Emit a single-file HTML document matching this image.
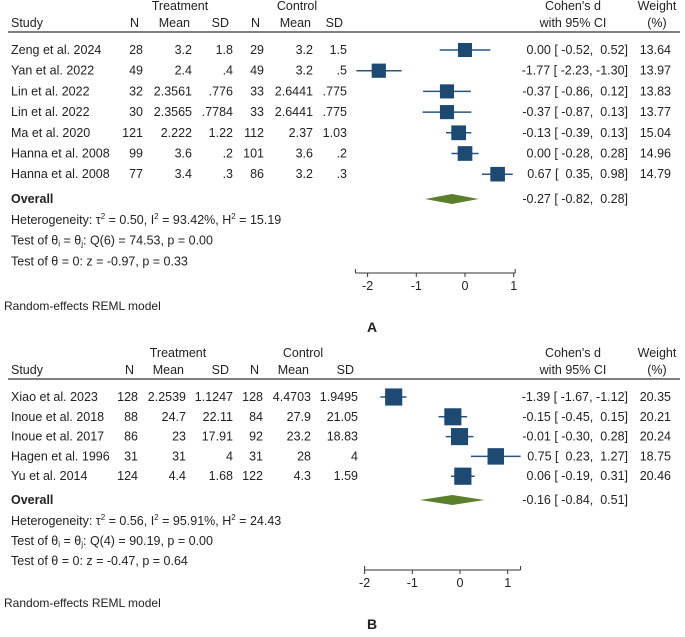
<!DOCTYPE html>
<html><head><meta charset="utf-8">
<style>
html,body{margin:0;padding:0;background:#fff;}
svg{display:block;font-family:"Liberation Sans Narrow","Liberation Sans",sans-serif;font-size:12.5px;fill:#222;}
</style></head>
<body>
<svg id="chart" width="685" height="637" viewBox="0 0 685 637" xmlns="http://www.w3.org/2000/svg"></svg>
<script>
// Panel A data
const studiesA = ["Zeng et al. 2024","Yan et al. 2022","Lin et al. 2022","Lin et al. 2022","Ma et al. 2020","Hanna et al. 2008","Hanna et al. 2008"];
const tNA = ["28","49","32","30","121","99","77"];
const tMeanA = ["3.2","2.4","2.3561","2.3565","2.222","3.6","3.4"];
const tSDA = ["1.8",".4",".776",".7784","1.22",".2",".3"];
const cNA = ["29","49","33","33","112","101","86"];
const cMeanA = ["3.2","3.2","2.6441","2.6441","2.37","3.6","3.2"];
const cSDA = ["1.5",".5",".775",".775","1.03",".2",".3"];
const effA = [0.00,-1.77,-0.37,-0.37,-0.13,0.00,0.67];
const loA = [-0.52,-2.23,-0.86,-0.87,-0.39,-0.28,0.35];
const hiA = [0.52,-1.30,0.12,0.13,0.13,0.28,0.98];
const wA = [13.64,13.97,13.83,13.77,15.04,14.96,14.79];
const overallA = [-0.27,-0.82,0.28];
const statsA = ["0.50","93.42%","15.19","6","74.53","0.00","-0.97","0.33"];
// Panel B data
const studiesB = ["Xiao et al. 2023","Inoue et al. 2018","Inoue et al. 2017","Hagen et al. 1996","Yu et al. 2014"];
const tNB = ["128","88","86","31","124"];
const tMeanB = ["2.2539","24.7","23","31","4.4"];
const tSDB = ["1.1247","22.11","17.91","4","1.68"];
const cNB = ["128","84","92","31","122"];
const cMeanB = ["4.4703","27.9","23.2","28","4.3"];
const cSDB = ["1.9495","21.05","18.83","4","1.59"];
const effB = [-1.39,-0.15,-0.01,0.75,0.06];
const loB = [-1.67,-0.45,-0.30,0.23,-0.19];
const hiB = [-1.12,0.15,0.28,1.27,0.31];
const wB = [20.35,20.21,20.24,18.75,20.46];
const overallB = [-0.16,-0.84,0.51];
const statsB = ["0.56","95.91%","24.43","4","90.19","0.00","-0.47","0.64"];
const ticks = [-2,-1,0,1];

const svg = document.getElementById('chart');
const NS = "http://www.w3.org/2000/svg";
function el(tag, attrs, parent){
  const e = document.createElementNS(NS, tag);
  for (const k in attrs) e.setAttribute(k, attrs[k]);
  (parent||svg).appendChild(e);
  return e;
}
function txt(s, x, y, anchor, g, extra){
  const t = el('text', Object.assign({x:x, y:y, 'text-anchor':anchor||'start'}, extra||{}), g);
  t.textContent = s;
  return t;
}
function f2(v){ return (v<0?"-":"")+Math.abs(v).toFixed(2); }
function ciText(e,l,h){
  return f2(e)+" [ "+ (l<0?f2(l):"\u00a0"+f2(l)) +",  "+(h<0?f2(h):"\u00a0"+f2(h))+"]";
}

function panel(P){
  const g = el('g', {});
  
  
  const X = v => P.zero + v*P.unit;
  const yb = P.y0;
  const h = el('g', {}, g);
  
  
  txt("Treatment", P.col.treat, yb+4, 'middle', h);
  txt("Control", P.col.ctrl, yb+4, 'middle', h);
  txt("Cohen's d", 573, yb+4, 'middle', h);
  txt("Weight", 657, yb+4, 'middle', h);
  const y2 = yb+17+4;
  txt("Study", 11, y2, 'start', h);
  txt("N", P.col.n1-4, y2, 'end', h);
  txt("Mean", P.col.m1-2, y2, 'end', h);
  txt("SD", P.col.s1-4, y2, 'end', h);
  txt("N", P.col.n2-4, y2, 'end', h);
  txt("Mean", P.col.m2-2, y2, 'end', h);
  txt("SD", P.col.s2-4, y2, 'end', h);
  txt("with 95% CI", 573, y2, 'middle', h);
  txt("(%)", 657, y2, 'middle', h);
  el('line', {x1:8, x2:680, y1:yb+26, y2:yb+26, stroke:'#333', 'stroke-width':1.2}, h);
  P.studies.forEach((s,i)=>{
    const y = P.rows0 + i*P.step;
    const r = el('g', {}, g);
    
    
    txt(s, 11, y+4, 'start', r);
    txt(P.tN[i], P.col.n1, y+4, 'end', r);
    txt(P.tM[i], P.col.m1, y+4, 'end', r);
    txt(P.tS[i], P.col.s1, y+4, 'end', r);
    txt(P.cN[i], P.col.n2, y+4, 'end', r);
    txt(P.cM[i], P.col.m2, y+4, 'end', r);
    txt(P.cS[i], P.col.s2, y+4, 'end', r);
    txt(ciText(P.eff[i],P.lo[i],P.hi[i]), 628, y+4, 'end', r);
    txt(P.w[i].toFixed(2), 671, y+4, 'end', r);
    const ci = el('line', {x1:X(P.lo[i]), x2:X(P.hi[i]), y1:y, y2:y, stroke:'#2a5580', 'stroke-width':1.5}, r);
    
    
    const sz = Math.sqrt(P.w[i])*3.8;
    const sq = el('rect', {x:X(P.eff[i])-sz/2, y:y-sz/2, width:sz, height:sz, fill:'#1d4a73'}, r);
    
    
  });
  const yo = P.overallY;
  const o = el('g', {}, g);
  
  
  txt("Overall", 11, yo+4, 'start', o, {'font-weight':'bold'});
  const d = el('polygon', {points:[X(P.ov[1])+','+yo, X(P.ov[0])+','+(yo-5), X(P.ov[2])+','+yo, X(P.ov[0])+','+(yo+5)].join(' '), fill:'#5b7f2b'}, o);
  
  
  txt(ciText(P.ov[0],P.ov[1],P.ov[2]), 628, yo+4, 'end', o);
  const st = el('g', {}, g);
  
  
  const S = P.stats;
  const t1 = txt("", 11, P.statY+4, 'start', st);
  t1.innerHTML = 'Heterogeneity: τ<tspan dy="-5" font-size="8">2</tspan><tspan dy="5"> = '+S[0]+', I</tspan><tspan dy="-5" font-size="8">2</tspan><tspan dy="5"> = '+S[1]+', H</tspan><tspan dy="-5" font-size="8">2</tspan><tspan dy="5"> = '+S[2]+'</tspan>';
  const t2 = txt("", 11, P.statY+P.statStep+4, 'start', st);
  t2.innerHTML = 'Test of θ<tspan dy="2" font-size="8">i</tspan><tspan dy="-2"> = θ</tspan><tspan dy="2" font-size="8">j</tspan><tspan dy="-2">: Q('+S[3]+') = '+S[4]+', p = '+S[5]+'</tspan>';
  txt("Test of θ = 0: z = "+S[6]+", p = "+S[7], 11, P.statY+2*P.statStep+4, 'start', st);
  const ax = el('g', {}, g);
  
  
  el('line', {x1:X(P.axMin), x2:X(P.axMax), y1:P.axisY, y2:P.axisY, stroke:'#333', 'stroke-width':1}, ax);
  ticks.forEach(t=>{
    el('line', {x1:X(t), x2:X(t), y1:P.axisY, y2:P.axisY+4, stroke:'#333', 'stroke-width':1}, ax);
    txt(String(t), X(t), P.axisY+17, 'middle', ax);
  });
  el('line', {x1:X(P.axMin), x2:X(P.axMin), y1:P.axisY, y2:P.axisY-4, stroke:'#333'}, ax);
  el('line', {x1:X(P.axMax), x2:X(P.axMax), y1:P.axisY, y2:P.axisY-4, stroke:'#333'}, ax);
  const m = txt("Random-effects REML model", 4, P.modelY+4, 'start', g, {'font-size':'12'});
  
  
  const lbl = txt(P.label, 372, P.labelY+5, 'middle', g, {'font-weight':'bold','font-size':'14','font-family':'Liberation Sans, sans-serif'});
  
  
}

panel({name:'panel-a', label:'A', y0:6, rows0:50, step:20.7, studies:studiesA, tN:tNA, tM:tMeanA, tS:tSDA, cN:cNA, cM:cMeanA, cS:cSDA,
  eff:effA, lo:loA, hi:hiA, w:wA, ov:overallA, stats:statsA, overallY:199, statY:220, statStep:20.7,
  zero:465, unit:48.7, axisY:273, axMin:-2.25, axMax:1.03, modelY:306, labelY:327,
  col:{treat:180, ctrl:297, n1:143, m1:192, s1:233, n2:264, m2:313, s2:347}});
panel({name:'panel-b', label:'B', y0:353, rows0:397, step:19.8, studies:studiesB, tN:tNB, tM:tMeanB, tS:tSDB, cN:cNB, cM:cMeanB, cS:cSDB,
  eff:effB, lo:loB, hi:hiB, w:wB, ov:overallB, stats:statsB, overallY:500, statY:521, statStep:20,
  zero:460, unit:47.7, axisY:570, axMin:-2, axMax:1.27, modelY:603, labelY:624,
  col:{treat:178, ctrl:303, n1:138, m1:186, s1:233, n2:263, m2:311, s2:358}});
</script>
</body></html>
